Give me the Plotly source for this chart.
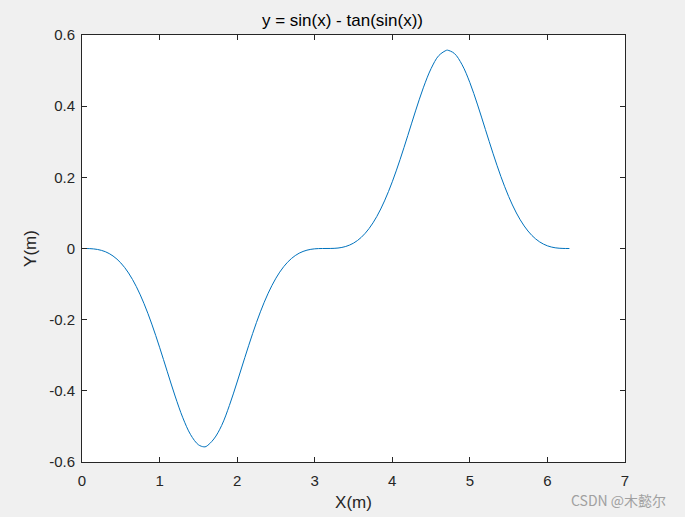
import plotly.graph_objects as go

# x samples (0 to 2*pi) and y values
x_vals = [0.0, 0.1, 0.2, 0.3, 0.4, 0.5, 0.6, 0.7, 0.8, 0.9,
          1.0, 1.1, 1.2, 1.3, 1.4, 1.5, 1.5708, 1.6, 1.7, 1.8, 1.9,
          2.0, 2.1, 2.2, 2.3, 2.4, 2.5, 2.6, 2.7, 2.8, 2.9,
          3.0, 3.1, 3.2, 3.3, 3.4, 3.5, 3.6, 3.7, 3.8, 3.9,
          4.0, 4.1, 4.2, 4.3, 4.4, 4.5, 4.6, 4.7, 4.7124, 4.8, 4.9,
          5.0, 5.1, 5.2, 5.3, 5.4, 5.5, 5.6, 5.7, 5.8, 5.9,
          6.0, 6.1, 6.2, 6.2832]
y_vals = [0.0, -0.0003, -0.0027, -0.0089, -0.0210, -0.0405, -0.0688, -0.1069, -0.1551, -0.2125,
          -0.2775, -0.3465, -0.4146, -0.4757, -0.5232, -0.5514, -0.5574, -0.5564, -0.5353, -0.4975, -0.4412,
          -0.3752, -0.3059, -0.2388, -0.1779, -0.1257, -0.0834, -0.0511, -0.0281, -0.0131, -0.0047,
          -0.0009, -0.0000, 0.0001, 0.0013, 0.0057, 0.0151, 0.0313, 0.0559, 0.0898, 0.1338,
          0.1876, 0.2497, 0.3176, 0.3867, 0.4515, 0.5055, 0.5423, 0.5572, 0.5574, 0.5482, 0.5164,
          0.4662, 0.4034, 0.3348, 0.2662, 0.2023, 0.1463, 0.0998, 0.0634, 0.0366, 0.0185,
          0.0075, 0.0020, 0.0002, 0.0]

x_ticks = [0, 1, 2, 3, 4, 5, 6, 7]
y_ticks = [-0.6, -0.4, -0.2, 0, 0.2, 0.4, 0.6]
y_labels = ["-0.6", "-0.4", "-0.2", "0", "0.2", "0.4", "0.6"]

font = "Liberation Sans, Arial, sans-serif"
dark = "#262626"

fig = go.Figure()
fig.add_trace(go.Scatter(x=x_vals, y=y_vals, mode="lines",
                         line=dict(color="#0072BD", width=1, shape="spline"),
                         showlegend=False))

axis_common = dict(showline=True, linecolor=dark, linewidth=1, mirror="ticks",
                   ticks="inside", ticklen=5, tickcolor=dark, showgrid=False,
                   zeroline=False, automargin=False,
                   tickfont=dict(family=font, size=15, color=dark))

fig.update_xaxes(range=[0, 7], tickvals=x_ticks, ticklabelstandoff=5,
                 title=dict(text="X(m)", font=dict(family=font, size=17, color=dark), standoff=8),
                 **axis_common)
fig.update_yaxes(range=[-0.6, 0.6], tickvals=y_ticks, ticktext=y_labels, ticklabelstandoff=3,
                 title=dict(text="Y(m)", font=dict(family=font, size=17, color=dark), standoff=8),
                 **axis_common)

fig.update_layout(
    width=685, height=517,
    paper_bgcolor="#F0F0F0", plot_bgcolor="white",
    margin=dict(l=82, r=60, t=35, b=55),
    title=dict(text="y = sin(x) - tan(sin(x))", x=0.5, xanchor="center", y=0.961, yanchor="middle",
               font=dict(family=font, size=17, color="black")),
)

fig.add_annotation(text="CSDN @木懿尔", xref="paper", yref="paper", x=1.08, y=-0.089,
                   xanchor="right", yanchor="middle", showarrow=False,
                   font=dict(family="Noto Sans CJK SC, sans-serif", size=14, color="#A0A0A0"))

# drop the page margin so the figure fills the window like the original
fig.write_html("out.html", config={"displayModeBar": False},
               post_script="document.body.style.margin='0';document.body.style.background='#F0F0F0';")
